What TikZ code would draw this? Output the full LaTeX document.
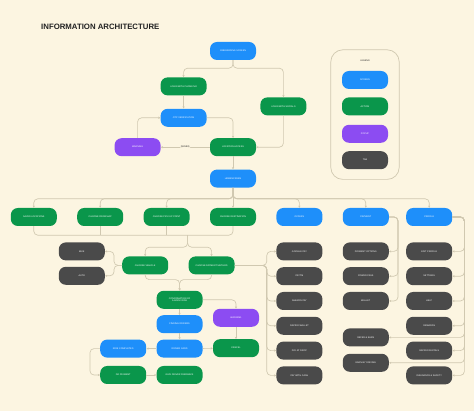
\documentclass[tikz,border=0pt]{standalone}
\usepackage{fontspec}
\setmainfont{Liberation Sans}
\usetikzlibrary{positioning, arrows.meta}
\definecolor{paper}{HTML}{FCF5E1}
\definecolor{scrblue}{HTML}{1E8FFA}
\definecolor{actgreen}{HTML}{0A964B}
\definecolor{popviolet}{HTML}{8C4CF2}
\definecolor{tabgray}{HTML}{4A4A4A}
\definecolor{linetan}{HTML}{D0C8B0}
\definecolor{ink}{HTML}{222222}
\tikzset{
  box/.style={rounded corners=7pt, minimum width=46pt, minimum height=18pt, inner sep=0pt,
    text=white, align=center, font=\fontsize{2.3}{2.8}\selectfont},
  scrbox/.style={box, fill=scrblue},
  actbox/.style={box, fill=actgreen},
  popbox/.style={box, fill=popviolet},
  tabbox/.style={box, fill=tabgray},
  link/.style={draw=linetan, line width=0.65pt, rounded corners=4pt},
  tag/.style={inner sep=0.6pt, text=ink, font=\fontsize{2.3}{2.8}\selectfont},
}

\begin{document}
\begin{tikzpicture}[node distance=6.4pt, >={Stealth[length=2.2pt,width=2.2pt]}]
\fill[paper] (0,0) rectangle (474pt,-411pt);
\useasboundingbox (0,0) rectangle (474pt,-411pt);

\node[anchor=west, inner sep=0pt, text=ink, font=\bfseries\fontsize{7.8}{9}\selectfont] (title) at (41pt,-26.5pt) {INFORMATION ARCHITECTURE};

\node[scrbox] (onb) at (233pt,-51pt) {ONBOARDING SCREEN};
\node[actbox, below left=17pt and 3pt of onb] (phone) {LOGIN WITH PHONE NO};
\node[actbox, below right=37pt and 4pt of onb] (socials) {LOGIN WITH SOCIALS};
\node[scrbox, below=13pt of phone] (otp) {OTP VERIFICATION};
\node[actbox, below right=11pt and 3pt of otp] (loc) {LOCATION ACCESS};
\node[popbox, left=49pt of loc] (warn) {WARNING};
\node[scrbox, below=13pt of loc] (home) {HOMESCREEN};

\node[actbox, below=20pt of home] (dest) {CHOOSE DESTINATION};
\node[actbox, left=20pt of dest] (pickup) {CHOOSE PICK UP POINT};
\node[actbox, left=20pt of pickup] (map) {CHOOSE FROM MAP};
\node[actbox, left=20pt of map] (saved) {SAVED LOCATIONS};
\node[scrbox, right=20pt of dest] (offers) {OFFERS};
\node[scrbox, right=20pt of offers] (payment) {PAYMENT};
\node[scrbox, right=17pt of payment] (profile) {PROFILE};

\node[actbox, below=30pt of pickup, xshift=45pt] (paymeth) {CHOOSE PAYMENT METHOD};
\node[actbox, left=20pt of paymeth] (vehicle) {CHOOSE VEHICLE};
\node[tabbox, left=17pt of vehicle, yshift=14pt] (bike) {BIKE};
\node[tabbox, below=6pt of bike] (auto) {AUTO};

\node[tabbox, below=16pt of offers] (gpay) {GOOGLE PAY};
\node[tabbox, below=of gpay] (paytm) {PAYTM};
\node[tabbox, below=of paytm] (amazon) {AMAZON PAY};
\node[tabbox, below=of amazon] (rwallet) {RAPIDO WALLET};
\node[tabbox, below=of rwallet] (paydrop) {PAY AT DROP};
\node[tabbox, below=of paydrop] (cash) {PAY WITH CASH};

\node[tabbox, below=16pt of payment] (popt) {PAYMENT OPTIONS};
\node[tabbox, below=of popt] (ppass) {POWER PASS};
\node[tabbox, below=of ppass] (wallet) {WALLET};
\node[tabbox, below=18pt of wallet] (refer) {REFER \& EARN};
\node[tabbox, below=7pt of refer] (earn) {EARN BY DRIVING};

\node[tabbox, below=16pt of profile] (edit) {EDIT PROFILE};
\node[tabbox, below=of edit] (settings) {SETTINGS};
\node[tabbox, below=of settings] (help) {HELP};
\node[tabbox, below=of help] (rewards) {REWARDS};
\node[tabbox, below=of rewards] (rentals) {RAPIDO RENTALS};
\node[tabbox, below=of rentals] (insure) {INSURANCE \& SAFETY};

\node[actbox, below=16pt of paymeth, xshift=-32pt] (confirm) {CONFIRMATION OF\\A BOOK RIDE};
\node[scrbox, below=6pt of confirm] (find) {FINDING DRIVERS};
\node[scrbox, below=6pt of find] (driver) {DRIVER CARD};
\node[popbox, right=10pt of confirm, yshift=-18pt] (cwarn) {WARNING};
\node[actbox, below=12pt of cwarn] (cancel) {CANCEL};
\node[scrbox, left=10pt of driver] (done) {RIDE COMPLETED};
\node[actbox, below=8pt of done] (pay) {DO PAYMENT};
\node[actbox, right=10pt of pay] (feedback) {GIVE DRIVER FEEDBACK};

\node[scrbox] (lscreen) at (365pt,-80pt) {SCREEN};
\node[actbox, below=8pt of lscreen] (laction) {ACTION};
\node[popbox, below=9pt of laction] (lpopup) {POPUP};
\node[tabbox, below=8pt of lpopup] (ltab) {TAB};
\node[tag, above=8pt of lscreen] (ltitle) {LEGEND};
\draw[draw=linetan, line width=0.7pt, rounded corners=12pt] ([shift={(-11pt,21pt)}]lscreen.north west) rectangle ([shift={(11pt,-10pt)}]ltab.south east);

\coordinate[below=9pt of pickup.south, xshift=21pt] (hub);

\draw[link,->] (onb.south) -- ++(0,-8pt) -| (phone.north);
\draw[link,->] (onb.south) -- ++(0,-8pt) -| (socials.north);
\draw[link,->] (phone) -- (otp);
\draw[link,->] (otp.east) -| (loc.north);
\draw[link,->] (socials.south) |- (loc.east);
\draw[link,->] (loc) -- node[tag, fill=paper] {DENIED} (warn);
\draw[link,->] (warn.north) |- (otp.west);
\draw[link,->] (loc) -- (home);

\draw[link,->] (home.south) -- ++(0,-11pt) -| (saved.north);
\draw[link,->] (home.south) -- ++(0,-11pt) -| (map.north);
\draw[link,->] (home.south) -- ++(0,-11pt) -| (pickup.north);
\draw[link,->] (home.south) -- (dest.north);
\draw[link,->] (home.south) -- ++(0,-11pt) -| (offers.north);
\draw[link,->] (home.south) -- ++(0,-11pt) -| (payment.north);
\draw[link,->] (home.south) -- ++(0,-11pt) -| (profile.north);

\draw[link] (saved.south) -- ++(0,-9pt) -| (dest.south);
\draw[link] (map.south) -- ++(0,-9pt);
\draw[link] (pickup.south) -- ++(0,-9pt);
\draw[link,->] (hub) -- ++(0,-12pt) -| (vehicle.north);
\draw[link,->] (hub) -- ++(0,-12pt) -| (paymeth.north);

\draw[link,->] (vehicle.west) -- ++(-8pt,0) |- (bike.east);
\draw[link,->] (vehicle.west) -- ++(-8pt,0) |- (auto.east);

\draw[link,->] (paymeth.east) -- ++(32pt,0) |- (gpay.west);
\draw[link,->] (paymeth.east) -- ++(32pt,0) |- (paytm.west);
\draw[link,->] (paymeth.east) -- ++(32pt,0) |- (amazon.west);
\draw[link,->] (paymeth.east) -- ++(32pt,0) |- (rwallet.west);
\draw[link,->] (paymeth.east) -- ++(32pt,0) |- (paydrop.west);
\draw[link,->] (paymeth.east) -- ++(32pt,0) |- (cash.west);

\draw[link,->] (payment.east) -- ++(9pt,0) |- (popt.east);
\draw[link,->] (payment.east) -- ++(9pt,0) |- (ppass.east);
\draw[link,->] (payment.east) -- ++(9pt,0) |- (wallet.east);

\draw[link,->] (profile.east) -- ++(12pt,0) |- (edit.east);
\draw[link,->] (profile.east) -- ++(12pt,0) |- (settings.east);
\draw[link,->] (profile.east) -- ++(12pt,0) |- (help.east);
\draw[link,->] (profile.east) -- ++(12pt,0) |- (rewards.east);
\draw[link,->] (profile.east) -- ++(12pt,0) |- (rentals.east);
\draw[link,->] (profile.east) -- ++(12pt,0) |- (insure.east);
\draw[link,->] (profile.east) -- ++(12pt,0) |- (refer.east);
\draw[link,->] (profile.east) -- ++(12pt,0) |- (earn.east);

\draw[link,->] (vehicle.south) -- ++(0,-5pt) -| (confirm.north);
\draw[link,->] (paymeth.south) -- ++(0,-5pt) -| (confirm.north);
\draw[link,->] (confirm) -- (find);
\draw[link,->] (confirm.east) -| (cwarn.north);
\draw[link,->] (find) -- (driver);
\draw[link,->] (cwarn) -- (cancel);
\draw[link,->] (driver) -- (cancel);
\draw[link,->] (driver) -- (done);
\draw[link,->] (done.west) -- ++(-10pt,0) |- (pay.west);
\draw[link,->] (pay) -- (feedback);
\end{tikzpicture}
\end{document}
